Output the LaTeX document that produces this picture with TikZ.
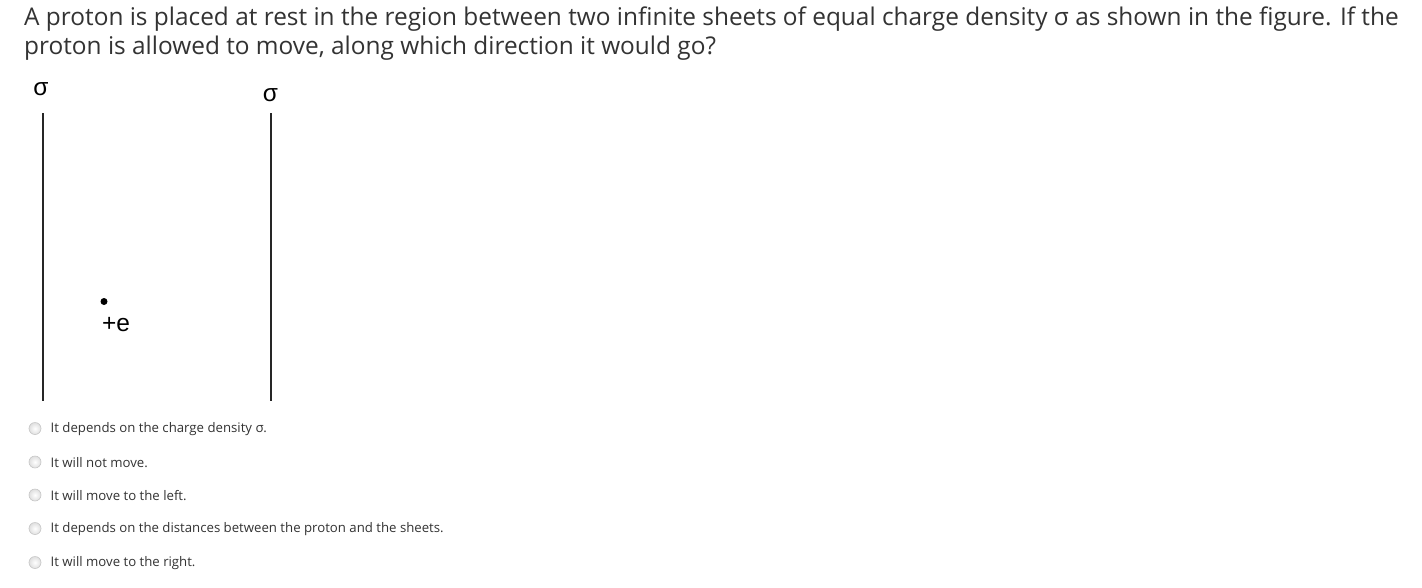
\documentclass[tikz,border=0pt]{standalone}
\usepackage{fontspec}
\setmainfont{Open Sans}
\newfontfamily\arialf{Liberation Sans}
\definecolor{txt}{HTML}{333333}
\begin{document}
\begin{tikzpicture}[x=1pt,y=-1pt,
  title/.style={anchor=base west,inner sep=0pt,text=txt,font=\fontsize{24.4}{29}\selectfont},
  sheet/.style={line width=2pt,black!85},
  sym/.style={inner sep=0pt,font=\arialf\fontsize{24.5}{28}\selectfont},
  radio/.style={circle,minimum size=12pt,inner sep=0pt,draw=gray!45,line width=0.6pt,inner color=white,outer color=gray!25},
  opt/.style={anchor=west,inner sep=0pt,text=txt,font=\fontsize{13.2}{15}\selectfont}]
\useasboundingbox (0,0) rectangle (1422,587);
\fill[white] (0,0) rectangle (1422,587);
\node[title] (t1) at (24,25) {A proton is placed at rest in the region between two infinite sheets of equal charge density σ as shown in the figure. If the};
\node[title] (t2) at (24,54) {proton is allowed to move, along which direction it would go?};
\node[sym] (s1) at (41,89) {σ};
\node[sym] (s2) at (270.5,95) {σ};
\coordinate (a1) at (42.5,113);
\coordinate (a2) at (42.5,401);
\coordinate (b1) at (270.5,113);
\coordinate (b2) at (270.5,401);
\draw[sheet] (a1) -- (a2);
\draw[sheet] (b1) -- (b2);
\node[circle,fill=black,minimum size=7pt,inner sep=0pt] (p) at (104,301.5) {};
\node[sym] (e) at (116,325) {+e};
\node[radio] (r1) at (35,428.5) {};
\node[radio] (r2) at (35,462) {};
\node[radio] (r3) at (35,495) {};
\node[radio] (r4) at (35,528.5) {};
\node[radio] (r5) at (35,562.5) {};
\node[opt] (o1) at (50.5,429) {It depends on the charge density σ.};
\node[opt] (o2) at (50.5,462.5) {It will not move.};
\node[opt] (o3) at (50.5,495.5) {It will move to the left.};
\node[opt] (o4) at (50.5,529) {It depends on the distances between the proton and the sheets.};
\node[opt] (o5) at (50.5,563) {It will move to the right.};
\end{tikzpicture}
\end{document}
